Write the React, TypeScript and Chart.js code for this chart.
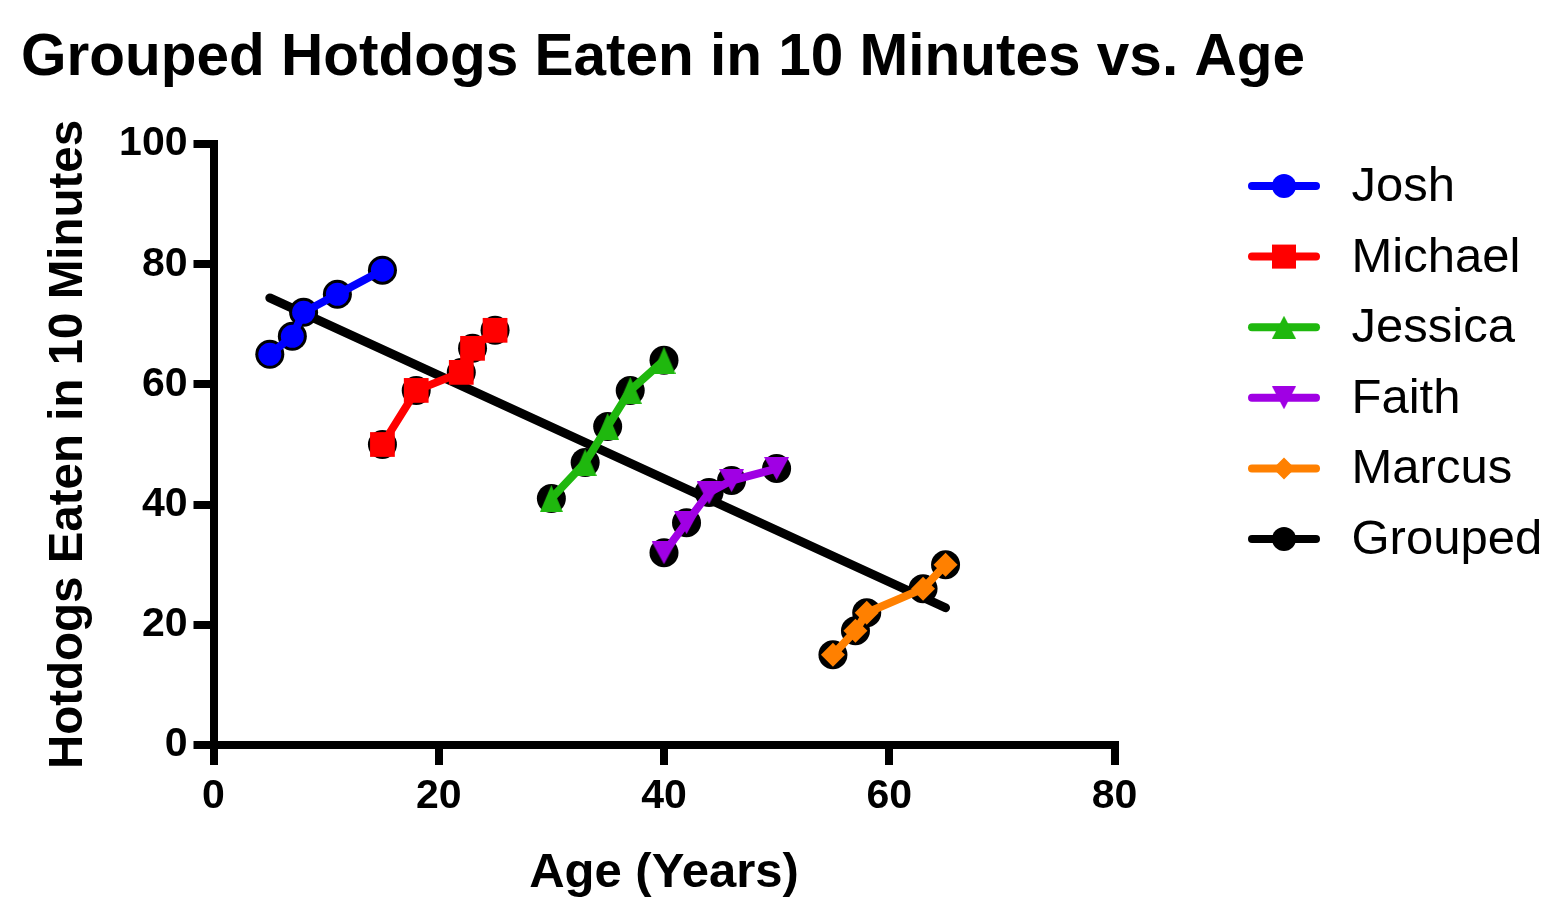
import React, { useEffect, useRef } from 'react';
import { Chart, registerables, layouts } from 'chart.js';
import { drawPoint } from 'chart.js/helpers';

Chart.register(...registerables);

// ---------- data ----------
const chartTitle = 'Grouped Hotdogs Eaten in 10 Minutes vs. Age';
const xAxisTitle = 'Age (Years)';
const yAxisTitle = 'Hotdogs Eaten in 10 Minutes';

const seriesNames = ['Josh', 'Michael', 'Jessica', 'Faith', 'Marcus'];
const groupedName = 'Grouped';

const joshAge = [5, 7, 8, 11, 15];
const joshEaten = [65, 68, 72, 75, 79];
const michaelAge = [15, 18, 22, 23, 25];
const michaelEaten = [50, 59, 62, 66, 69];
const jessicaAge = [30, 33, 35, 37, 40];
const jessicaEaten = [41, 47, 53, 59, 64];
const faithAge = [40, 42, 44, 46, 50];
const faithEaten = [32, 37, 42, 44, 46];
const marcusAge = [55, 57, 58, 63, 65];
const marcusEaten = [15, 19, 22, 26, 30];

const xTickValues = [0, 20, 40, 60, 80];
const yTickValues = [0, 20, 40, 60, 80, 100];

// ---------- styles ----------
const FONT = "'Liberation Sans', Arial, Helvetica, sans-serif";
const seriesColors = ['#0000ff', '#ff0000', '#1fb80e', '#a000e4', '#ff8000'];
const groupedColor = '#000000';
const seriesRadii = [11.5, 17.5, 14, 14, 12];
const legendRadii = [12, 17, 14, 14, 11, 12];
const groupedRadius = 14.5;

const ages = [joshAge, michaelAge, jessicaAge, faithAge, marcusAge];
const eaten = [joshEaten, michaelEaten, jessicaEaten, faithEaten, marcusEaten];

const toPoints = (xs: number[], ys: number[]) => xs.map((x, i) => ({ x, y: ys[i] }));

// triangle marker centred on its bounding box (as in the reference)
function triangleMarker(color: string, down: boolean, w: number, h: number) {
  const c = document.createElement('canvas');
  c.width = w;
  c.height = h;
  const g = c.getContext('2d') as CanvasRenderingContext2D;
  g.fillStyle = color;
  g.beginPath();
  if (down) {
    g.moveTo(0, 0);
    g.lineTo(w, 0);
    g.lineTo(w / 2, h);
  } else {
    g.moveTo(w / 2, 0);
    g.lineTo(w, h);
    g.lineTo(0, h);
  }
  g.closePath();
  g.fill();
  return c;
}

function linearFit(points: { x: number; y: number }[]) {
  const n = points.length;
  const mx = points.reduce((s, p) => s + p.x, 0) / n;
  const my = points.reduce((s, p) => s + p.y, 0) / n;
  let sxx = 0;
  let sxy = 0;
  points.forEach((p) => {
    sxx += (p.x - mx) * (p.x - mx);
    sxy += (p.x - mx) * (p.y - my);
  });
  const slope = sxy / sxx;
  const intercept = my - slope * mx;
  const xmin = Math.min(...points.map((p) => p.x));
  const xmax = Math.max(...points.map((p) => p.x));
  return [
    { x: xmin, y: intercept + slope * xmin },
    { x: xmax, y: intercept + slope * xmax },
  ];
}

const LEGEND_WIDTH = 448.5;

function drawLegend(ctx: CanvasRenderingContext2D, box: any, styles: any[]) {
  const names = [...seriesNames, groupedName];
  const colors = [...seriesColors, groupedColor];
  const x0 = box.left + 133.5;
  const x1 = box.left + 205.5;
  const textX = box.left + 237;
  names.forEach((name, i) => {
    const y = box.top + 42 + i * 70.6;
    ctx.save();
    ctx.strokeStyle = colors[i];
    ctx.lineWidth = 8;
    ctx.lineCap = 'round';
    ctx.beginPath();
    ctx.moveTo(x0 + 4, y);
    ctx.lineTo(x1 - 4, y);
    ctx.stroke();
    ctx.fillStyle = colors[i];
    drawPoint(
      ctx,
      { pointStyle: styles[i], rotation: 0, radius: legendRadii[i], borderWidth: 0 } as any,
      (x0 + x1) / 2,
      y
    );
    ctx.fillStyle = '#000';
    ctx.font = `49px ${FONT}`;
    ctx.textBaseline = 'middle';
    ctx.textAlign = 'left';
    ctx.fillText(name, textX, y + 1.5);
    ctx.restore();
  });
}

function makeLegendBoxPlugin(styles: any[]) {
  return {
    id: 'prismLegendBox',
    beforeInit(chart: any) {
      const box: any = {
        position: 'right',
        weight: 100,
        fullSize: false,
        options: { stackWeight: 1 },
        left: 0,
        top: 0,
        right: 0,
        bottom: 0,
        width: 0,
        height: 0,
        isHorizontal() {
          return false;
        },
        update(_maxWidth: number, maxHeight: number) {
          this.width = LEGEND_WIDTH;
          this.height = maxHeight;
        },
        draw() {
          drawLegend(chart.ctx, this, styles);
        },
      };
      layouts.addBox(chart, box);
    },
  };
}

export default function App() {
  const canvasRef = useRef<HTMLCanvasElement | null>(null);

  useEffect(() => {
    document.body.style.margin = '0';
    const canvas = canvasRef.current;
    if (!canvas) return;

    const seriesPointStyles: any[] = [
      'circle',
      'rect',
      triangleMarker(seriesColors[2], false, 23, 27),
      triangleMarker(seriesColors[3], true, 25, 23),
      'rectRot',
    ];
    const legendStyles: any[] = [
      'circle',
      'rect',
      triangleMarker(seriesColors[2], false, 24, 23),
      triangleMarker(seriesColors[3], true, 24, 23),
      'rectRot',
      'circle',
    ];

    const allPoints = ages.flatMap((xs, k) => toPoints(xs, eaten[k]));
    const fit = linearFit(allPoints);

    const seriesDatasets = seriesNames.map((name, k) => ({
      label: name,
      data: toPoints(ages[k], eaten[k]),
      showLine: true,
      borderColor: seriesColors[k],
      backgroundColor: seriesColors[k],
      borderWidth: 8,
      pointStyle: seriesPointStyles[k],
      pointRadius: seriesRadii[k],
      pointHoverRadius: seriesRadii[k],
      pointBackgroundColor: seriesColors[k],
      pointBorderWidth: 0,
      tension: 0,
      order: k + 1,
      clip: false,
    }));

    const chart = new Chart(canvas, {
      type: 'scatter',
      data: {
        datasets: [
          ...seriesDatasets,
          {
            label: groupedName,
            data: allPoints,
            showLine: false,
            pointStyle: 'circle',
            pointRadius: groupedRadius,
            pointHoverRadius: groupedRadius,
            pointBackgroundColor: groupedColor,
            backgroundColor: groupedColor,
            borderColor: groupedColor,
            pointBorderWidth: 0,
            order: 10,
            clip: false,
          },
          {
            label: groupedName + ' fit',
            data: fit,
            showLine: true,
            borderColor: groupedColor,
            backgroundColor: groupedColor,
            borderWidth: 9,
            borderCapStyle: 'round',
            pointRadius: 0,
            pointHoverRadius: 0,
            order: 20,
            clip: false,
          },
        ] as any,
      },
      options: {
        animation: false,
        responsive: true,
        maintainAspectRatio: false,
        devicePixelRatio: 1,
        events: [],
        layout: { padding: { left: 21, right: 0, top: 0, bottom: 0 } },
        plugins: {
          legend: { display: false },
          tooltip: { enabled: false },
          title: {
            display: true,
            text: chartTitle,
            align: 'start',
            color: '#000',
            font: { family: FONT, size: 58.5, weight: 'bold', lineHeight: 1.2 },
            padding: { top: 24, bottom: 49.8 },
          },
        },
        scales: {
          x: {
            type: 'linear',
            min: 0,
            max: 80,
            afterBuildTicks: (s: any) => {
              s.ticks = xTickValues.map((v) => ({ value: v }));
            },
            afterFit: (s: any) => {
              s.height = 176;
            },
            border: { display: true, width: 8, color: '#000' },
            grid: {
              display: true,
              drawOnChartArea: false,
              drawTicks: true,
              tickLength: 20,
              lineWidth: 8,
              color: '#000',
            },
            ticks: {
              color: '#000',
              padding: 7,
              maxRotation: 0,
              font: { family: FONT, size: 41, weight: 'bold', lineHeight: 1.2 },
            },
            title: {
              display: true,
              text: xAxisTitle,
              color: '#000',
              font: { family: FONT, size: 49, weight: 'bold', lineHeight: 1.2 },
              padding: { top: 0, bottom: 18 },
            },
          },
          y: {
            type: 'linear',
            min: 0,
            max: 100,
            afterBuildTicks: (s: any) => {
              s.ticks = yTickValues.map((v) => ({ value: v }));
            },
            afterFit: (s: any) => {
              s.width = 192.5;
            },
            border: { display: true, width: 8, color: '#000' },
            grid: {
              display: true,
              drawOnChartArea: false,
              drawTicks: true,
              tickLength: 20,
              lineWidth: 8,
              color: '#000',
            },
            ticks: {
              color: '#000',
              padding: 6,
              font: { family: FONT, size: 41, weight: 'bold', lineHeight: 1.2 },
            },
            title: {
              display: true,
              text: yAxisTitle,
              color: '#000',
              font: { family: FONT, size: 47.5, weight: 'bold', lineHeight: 1.2 },
              padding: { top: 19, bottom: 0 },
            },
          },
        },
      } as any,
      plugins: [makeLegendBoxPlugin(legendStyles) as any],
    });

    return () => {
      chart.destroy();
    };
  }, []);

  return (
    <div style={{ width: 1563, height: 921, position: 'relative' }}>
      <canvas ref={canvasRef} />
    </div>
  );
}
